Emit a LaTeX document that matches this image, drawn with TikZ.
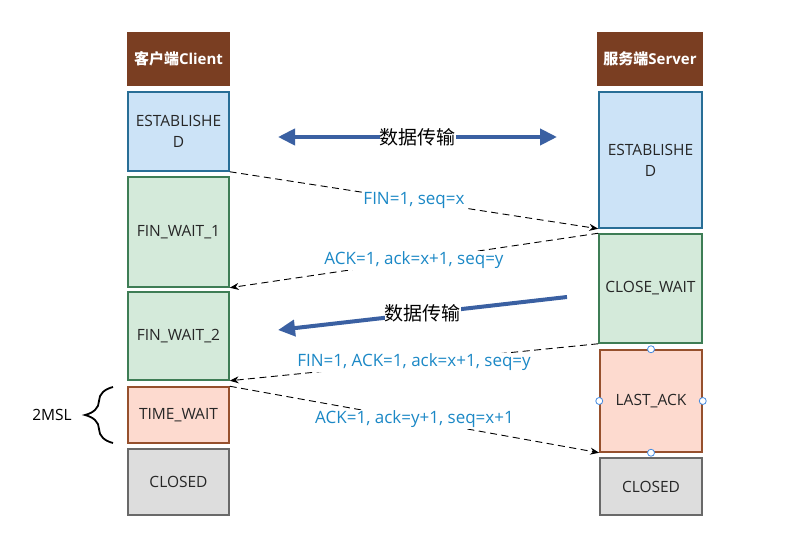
\documentclass[tikz,border=0pt]{standalone}
\usepackage{fontspec}
\setmainfont{Open Sans}
\newfontfamily\cjk{Noto Sans CJK SC}
\usetikzlibrary{arrows.meta, decorations.pathreplacing}
\definecolor{headbrown}{RGB}{122,62,34}
\definecolor{estfill}{RGB}{204,227,247}
\definecolor{estdraw}{RGB}{40,110,150}
\definecolor{waitfill}{RGB}{212,234,218}
\definecolor{waitdraw}{RGB}{62,125,85}
\definecolor{lastfill}{RGB}{253,218,207}
\definecolor{lastdraw}{RGB}{150,80,45}
\definecolor{closefill}{RGB}{221,221,221}
\definecolor{closedraw}{RGB}{105,105,105}
\definecolor{msgblue}{RGB}{27,136,198}
\definecolor{flowblue}{RGB}{58,96,162}
\definecolor{handleblue}{RGB}{70,140,225}

\begin{document}
\begin{tikzpicture}[x=1pt, y=-1pt, font=\fontsize{15.5}{21}\selectfont,
	state/.style={draw, line width=1.5pt, inner sep=1pt, text width=96pt, align=center, text=black!85},
	head/.style={fill=headbrown, minimum height=54pt, text=white, font=\fontsize{15}{17}\selectfont\bfseries},
	msg/.style={line width=0.9pt, dash pattern=on 7pt off 4.5pt, -{Stealth[length=9pt, width=7pt]}},
	msglabel/.style={midway, fill=white, inner sep=1pt, text=msgblue, font=\fontsize{17}{19}\selectfont},
	flow/.style={draw=flowblue, line width=4pt},
	flowlabel/.style={midway, fill=white, inner sep=0pt, font=\fontsize{19}{21}\selectfont\cjk},
	handle/.style={circle, draw=handleblue, fill=white, line width=0.8pt, inner sep=0pt, minimum size=7pt}]
	\path[use as bounding box, fill=white] (0,0) rectangle (789,537);
	% left: client states
	\node[head, minimum width=103pt] (chead) at (178.5,59) {{\cjk 客户端}Client};
	\node[state, fill=estfill, draw=estdraw, minimum width=101pt, minimum height=79pt] (cest) at (178.5,131.5) {ESTABLISHE\\D};
	\node[state, fill=waitfill, draw=waitdraw, minimum width=101pt, minimum height=110pt] (cfw1) at (178.5,232) {FIN\_WAIT\_1};
	\node[state, fill=waitfill, draw=waitdraw, minimum width=101pt, minimum height=88pt] (cfw2) at (178.5,336) {FIN\_WAIT\_2};
	\node[state, fill=lastfill, draw=lastdraw, minimum width=101pt, minimum height=56pt] (ctw) at (178.5,415) {TIME\_WAIT};
	\node[state, fill=closefill, draw=closedraw, minimum width=101pt, minimum height=66pt] (ccl) at (178.5,482) {CLOSED};
	% 2MSL brace
	\coordinate (brbot) at (113,443);
	\coordinate (brtop) at (113,387);
	\draw[line width=1.8pt, decorate, decoration={brace, amplitude=28pt, aspect=0.5}] (brbot) -- (brtop);
	\node (msl) at (52,415) {2MSL};
	% right: server states
	\node[head, minimum width=106pt] (shead) at (650,59) {{\cjk 服务端}Server};
	\node[state, fill=estfill, draw=estdraw, minimum width=103pt, minimum height=136pt] (sest) at (650.5,160) {ESTABLISHE\\D};
	\node[state, fill=waitfill, draw=waitdraw, minimum width=103pt, minimum height=109pt] (scw) at (650.5,288.5) {CLOSE\_WAIT};
	\node[state, fill=lastfill, draw=lastdraw, minimum width=102pt, minimum height=102pt] (sla) at (651,401) {LAST\_ACK};
	\node[state, fill=closefill, draw=closedraw, minimum width=102pt, minimum height=57pt] (scl) at (651,486.5) {CLOSED};
	\foreach \a in {north, south, east, west} {
		\node[handle] (h-\a) at (sla.\a) {};
	}
	% data transfer
	\coordinate (dt1l) at (278,137);
	\coordinate (dt1r) at (557,137);
	\draw[flow, {Triangle[length=17pt, width=16pt]}-{Triangle[length=17pt, width=16pt]}] (dt1l) -- node[flowlabel] (dt1) {数据传输} (dt1r);
	\coordinate (dt2s) at (567,297);
	\coordinate (dt2e) at (278,330);
	\draw[flow, -{Triangle[length=17pt, width=16pt]}] (dt2s) -- node[flowlabel] (dt2) {数据传输} (dt2e);
	% four-way wave
	\foreach \s/\e/\t/\n in {cest.south east/sest.south west/{FIN=1, seq=x}/m1,
		scw.north west/cfw1.south east/{ACK=1, ack=x+1, seq=y}/m2,
		scw.south west/cfw2.south east/{FIN=1, ACK=1, ack=x+1, seq=y}/m3,
		ctw.north east/sla.south west/{ACK=1, ack=y+1, seq=x+1}/m4} {
		\draw[msg] (\s) -- node[msglabel] (\n) {\t} (\e);
	}
\end{tikzpicture}
\end{document}
